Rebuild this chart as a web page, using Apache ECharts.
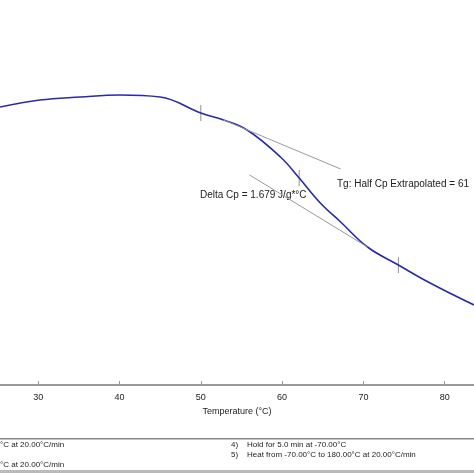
<!DOCTYPE html><html><head><meta charset="utf-8">
<script src="https://cdn.jsdelivr.net/npm/echarts@6/dist/echarts.min.js"></script>
<style>html,body{margin:0;padding:0;background:#fff}#c{width:474px;height:474px}</style></head><body><div id="c"></div>
<script>
const temps=[25.3,30.2,35.2,40,45,50,52.8,55.7,59.8,62.1,64.7,67.2,70.5,74.3,78.2,83.6];
const heat=[278,285,288,290,288,272,265,255,228,207,182,163,138,120,102,80];
const tangent1=[[52.8,265],[67.2,216]];
const tangent2=[[56.0,210],[70.5,138]];
const markers=[[50,272],[62.1,207],[74.3,120]];
const xTicks=[30,40,50,60,70,80];
const labels=['Delta Cp = 1.679 J/g*°C','Tg: Half Cp Extrapolated = 61'];
const c=echarts.init(document.getElementById('c'));
const F='Liberation Sans, Arial, sans-serif';
c.setOption({animation:false,
grid:{left:0,right:0,top:0,bottom:89},
xAxis:{type:'value',min:25.3,max:83.6,
 axisLine:{lineStyle:{color:'#999',width:2}},axisTick:{inside:true,length:4,customValues:xTicks,lineStyle:{color:'#999'}},
 splitLine:{show:false},
 axisLabel:{color:'#222',fontSize:9,fontFamily:F,customValues:xTicks,margin:8},
 name:'Temperature (°C)',nameLocation:'middle',nameGap:19,nameTextStyle:{fontSize:9,fontFamily:F,color:'#222'}},
yAxis:{type:'value',min:0,max:385,show:false},
series:[
 {type:'line',data:temps.map((t,i)=>[t,heat[i]]),smooth:0.4,symbol:'none',lineStyle:{color:'#2a2aa8',width:1.6}},
 {type:'line',data:tangent1,symbol:'none',lineStyle:{color:'#999',width:1}},
 {type:'line',data:tangent2,symbol:'none',lineStyle:{color:'#999',width:1}},
 {type:'scatter',data:markers,symbol:'rect',symbolSize:[1,16],itemStyle:{color:'#777'}}
],
graphic:[
 {type:'text',left:200,top:190,style:{text:labels[0],font:'10px '+F,fill:'#222'}},
 {type:'text',left:337,top:179,style:{text:labels[1],font:'10px '+F,fill:'#222'}},
 {type:'rect',shape:{x:0,y:438,width:474,height:1.5},style:{fill:'#888'}},
 {type:'rect',shape:{x:0,y:470,width:474,height:3},style:{fill:'#bbb'}},
 {type:'text',left:0,top:441,style:{text:'°C at 20.00°C/min',font:'8px '+F,fill:'#222'}},
 {type:'text',left:0,top:461,style:{text:'°C at 20.00°C/min',font:'8px '+F,fill:'#222'}},
 {type:'text',left:231,top:441,style:{text:'4)',font:'8px '+F,fill:'#222'}},
 {type:'text',left:231,top:451,style:{text:'5)',font:'8px '+F,fill:'#222'}},
 {type:'text',left:247,top:441,style:{text:'Hold for 5.0 min at -70.00°C',font:'8px '+F,fill:'#222'}},
 {type:'text',left:247,top:451,style:{text:'Heat from -70.00°C to 180.00°C at 20.00°C/min',font:'8px '+F,fill:'#222'}}
]});
</script></body></html>
